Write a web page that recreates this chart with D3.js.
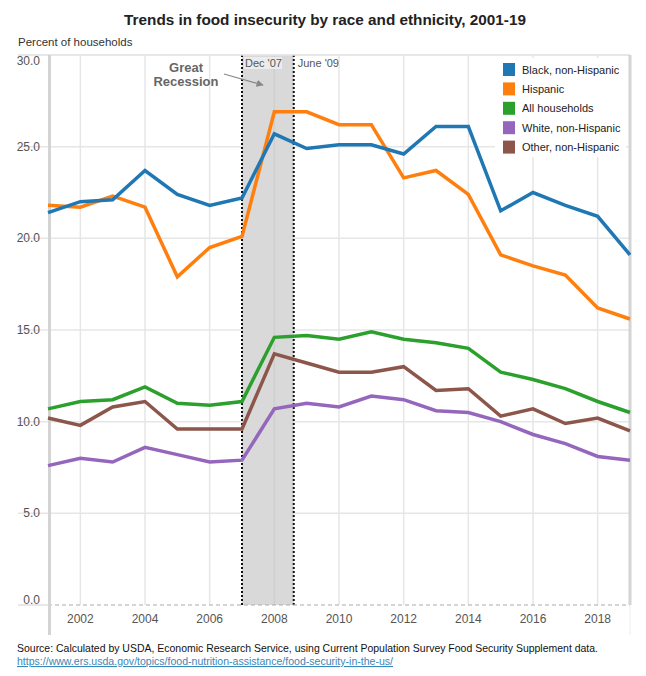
<!DOCTYPE html>
<html lang="en">
<head>
<meta charset="UTF-8">
<title>Trends in food insecurity by race and ethnicity, 2001-19</title>
<style>
  body { margin: 0; background: #fff; font-family: "Liberation Sans", Arial, sans-serif; }
  .grid line { stroke: #e6e6e6; stroke-width: 1.5; }
  .tick-label { font-size: 12px; fill: #555; }
  .legend-text { font-size: 11px; fill: #222; }
</style>
</head>
<body>
<svg id="chart" width="646" height="676"></svg>
<script src="https://d3js.org/d3.v7.min.js"></script>
<script>
const years = d3.range(2001, 2020);
const black    = [21.4, 22.0, 22.1, 23.7, 22.4, 21.8, 22.2, 25.7, 24.9, 25.1, 25.1, 24.6, 26.1, 26.1, 21.5, 22.5, 21.8, 21.2, 19.1];
const hispanic = [21.8, 21.7, 22.3, 21.7, 17.9, 19.5, 20.1, 26.9, 26.9, 26.2, 26.2, 23.3, 23.7, 22.4, 19.1, 18.5, 18.0, 16.2, 15.6];
const allHh    = [10.7, 11.1, 11.2, 11.9, 11.0, 10.9, 11.1, 14.6, 14.7, 14.5, 14.9, 14.5, 14.3, 14.0, 12.7, 12.3, 11.8, 11.1, 10.5];
const white    = [7.6, 8.0, 7.8, 8.6, 8.2, 7.8, 7.9, 10.7, 11.0, 10.8, 11.4, 11.2, 10.6, 10.5, 10.0, 9.3, 8.8, 8.1, 7.9];
const other    = [10.2, 9.8, 10.8, 11.1, 9.6, 9.6, 9.6, 13.7, 13.2, 12.7, 12.7, 13.0, 11.7, 11.8, 10.3, 10.7, 9.9, 10.2, 9.5];

const seriesNames = ["Black, non-Hispanic", "Hispanic", "All households", "White, non-Hispanic", "Other, non-Hispanic"];
const seriesValues = [black, hispanic, allHh, white, other];
const colors = ["#1f77b4", "#ff7f0e", "#2ca02c", "#9467bd", "#8c564b"];
const drawOrder = [3, 4, 2, 1, 0];

const xTicks = [2002, 2004, 2006, 2008, 2010, 2012, 2014, 2016, 2018];
const yTicks = [0, 5, 10, 15, 20, 25, 30];
const recession = [2007, 2008.6];

const svg = d3.select("#chart");
const x = d3.scaleLinear().domain([2001, 2019]).range([48, 630]);
const y = d3.scaleLinear().domain([0, 30]).range([605, 55]);

// title
svg.append("text").attr("x", 325).attr("y", 25).attr("text-anchor", "middle")
  .style("font-size", "15.3px").style("font-weight", "bold").style("fill", "#222")
  .text("Trends in food insecurity by race and ethnicity, 2001-19");
svg.append("text").attr("x", 18).attr("y", 46)
  .style("font-size", "11.5px").style("fill", "#333").text("Percent of households");

// grid
const grid = svg.append("g").attr("class", "grid");
grid.selectAll(".h").data(yTicks.filter(d => d > 0)).join("line")
  .attr("x1", 18).attr("x2", 630).attr("y1", d => y(d)).attr("y2", d => y(d));
grid.selectAll(".v").data(xTicks).join("line")
  .attr("x1", d => x(d)).attr("x2", d => x(d)).attr("y1", y(30)).attr("y2", y(0));

// recession shading
svg.append("rect").attr("x", x(recession[0])).attr("y", y(30))
  .attr("width", x(recession[1]) - x(recession[0])).attr("height", y(0) - y(30))
  .attr("fill", "#d9d9d9");
svg.append("line").attr("x1", x(2008)).attr("x2", x(2008)).attr("y1", y(30)).attr("y2", y(0))
  .attr("stroke", "#cfcfcf").attr("stroke-width", 1.5);
svg.selectAll(".rline").data(recession).join("line")
  .attr("x1", d => x(d)).attr("x2", d => x(d)).attr("y1", y(30)).attr("y2", y(0))
  .attr("stroke", "#111").attr("stroke-width", 2).attr("stroke-dasharray", "2,2");
svg.append("rect").attr("x", x(recession[0]) + 2).attr("y", 57).attr("width", 38).attr("height", 12)
  .attr("fill", "#ececec");
svg.append("text").attr("x", x(recession[0]) + 3).attr("y", 67)
  .style("font-size", "11px").style("fill", "#555").text("Dec '07");
svg.append("text").attr("x", x(recession[1]) + 4).attr("y", 67)
  .style("font-size", "11px").style("fill", "#555").text("June '09");

// annotation
const ann = svg.append("text").attr("text-anchor", "middle")
  .style("font-size", "13px").style("font-weight", "bold").style("fill", "#666");
ann.append("tspan").attr("x", 186).attr("y", 72).text("Great");
ann.append("tspan").attr("x", 186).attr("y", 86).text("Recession");
svg.append("defs").append("marker").attr("id", "arr").attr("viewBox", "0 0 10 10")
  .attr("refX", 9).attr("refY", 5).attr("markerWidth", 6).attr("markerHeight", 6)
  .attr("orient", "auto").append("path").attr("d", "M0,0L10,5L0,10z").attr("fill", "#888");
svg.append("line").attr("x1", 224).attr("y1", 74).attr("x2", 263).attr("y2", 85)
  .attr("stroke", "#888").attr("stroke-width", 1.2).attr("marker-end", "url(#arr)");

// frame
svg.append("line").attr("x1", 18).attr("x2", 630).attr("y1", y(30)).attr("y2", y(30))
  .attr("stroke", "#e6e6e6").attr("stroke-width", 1.5);
svg.append("line").attr("x1", 18).attr("x2", x(2001)).attr("y1", y(0)).attr("y2", y(0))
  .attr("stroke", "#d0d0d0").attr("stroke-width", 1);
svg.append("line").attr("x1", x(2001)).attr("x2", 630).attr("y1", y(0)).attr("y2", y(0))
  .attr("stroke", "#aaa").attr("stroke-width", 1).attr("stroke-dasharray", "4,3");
svg.append("line").attr("x1", 49.5).attr("x2", 49.5).attr("y1", y(30)).attr("y2", 635)
  .attr("stroke", "#d4d4d4").attr("stroke-width", 3);
svg.append("line").attr("x1", 630).attr("x2", 630).attr("y1", y(30)).attr("y2", y(0))
  .attr("stroke", "#d4d4d4").attr("stroke-width", 3);
svg.append("line").attr("x1", 630).attr("x2", 630).attr("y1", y(0)).attr("y2", 635)
  .attr("stroke", "#eee").attr("stroke-width", 1);

// y tick labels
svg.selectAll(".ylab").data(yTicks).join("text").attr("class", "tick-label")
  .attr("x", 40).attr("text-anchor", "end")
  .attr("y", d => d === 30 ? y(d) + 10 : d === 0 ? y(d) - 1 : y(d) + 4)
  .text(d3.format(".1f"));

// x tick labels
svg.selectAll(".xlab").data(xTicks).join("text").attr("class", "tick-label")
  .attr("x", d => x(d)).attr("y", 623).attr("text-anchor", "middle").text(d => d);

// lines
const line = d3.line().x((d, i) => x(years[i])).y(d => y(d));
svg.append("g").selectAll("path").data(drawOrder).join("path")
  .attr("d", i => line(seriesValues[i]))
  .attr("fill", "none").attr("stroke", i => colors[i])
  .attr("stroke-width", 3.5).attr("stroke-linejoin", "miter");

// legend
const lg = svg.append("g").attr("transform", "translate(495,58)");
lg.append("rect").attr("width", 131).attr("height", 99).attr("fill", "#fff");
const rows = lg.selectAll("g").data(seriesNames).join("g")
  .attr("transform", (d, i) => `translate(8,${5 + i * 19.4})`);
rows.append("rect").attr("width", 12).attr("height", 13).attr("fill", (d, i) => colors[i]);
rows.append("text").attr("class", "legend-text").attr("x", 19).attr("y", 10.5).text(d => d);

// source
svg.append("text").attr("x", 17).attr("y", 652).style("font-size", "11px").style("fill", "#111")
  .attr("textLength", 581).attr("lengthAdjust", "spacingAndGlyphs")
  .text("Source: Calculated by USDA, Economic Research Service, using Current Population Survey Food Security Supplement data.");
svg.append("text").attr("x", 17).attr("y", 665).style("font-size", "11px").style("fill", "#3a87b8")
  .style("text-decoration", "underline")
  .attr("textLength", 376).attr("lengthAdjust", "spacingAndGlyphs")
  .text("https://www.ers.usda.gov/topics/food-nutrition-assistance/food-security-in-the-us/");
</script>
</body>
</html>
